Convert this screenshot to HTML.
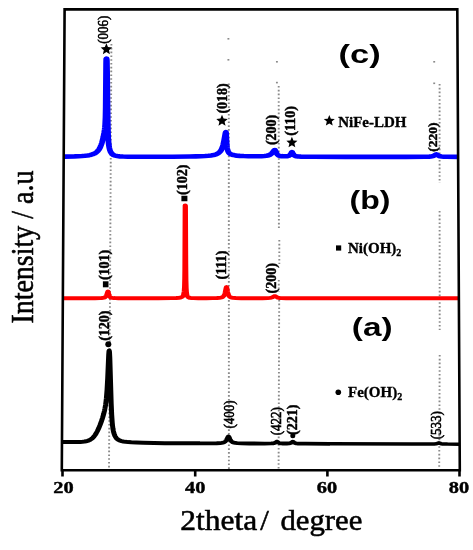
<!DOCTYPE html>
<html><head><meta charset="utf-8"><title>XRD patterns</title>
<style>html,body{margin:0;padding:0;background:#fff;}svg{display:block;}</style>
</head><body><svg width="473" height="550" viewBox="0 0 473 550"><g stroke="#8a8a8a" stroke-width="1.9" stroke-dasharray="1.6 2.2" fill="none"><line x1="111.4" y1="44" x2="109.0" y2="469"/><line x1="228.4" y1="38" x2="228.4" y2="40.5"/><line x1="228.4" y1="59" x2="228.4" y2="61.5"/><line x1="228.8" y1="83.5" x2="228.9" y2="469"/><line x1="276.9" y1="61" x2="276.9" y2="63.5"/><line x1="276.9" y1="81.8" x2="276.9" y2="83.6"/><line x1="278.7" y1="86" x2="278.9" y2="228"/><line x1="279.3" y1="240" x2="279.3" y2="264"/><line x1="278.8" y1="280" x2="278.8" y2="292"/><line x1="279.2" y1="296" x2="278.6" y2="469"/><line x1="434.2" y1="61" x2="434.2" y2="63.5"/><line x1="434.2" y1="82.5" x2="434.2" y2="84.5"/><line x1="439.6" y1="84" x2="439.6" y2="183"/><line x1="439.6" y1="211" x2="439.7" y2="330"/><line x1="439.7" y1="355" x2="439.2" y2="469"/></g><path transform="scale(1.25 1)" d="M51.20 156.64 L59.60 156.41 L62.80 156.25 L65.52 156.05 L67.84 155.80 L69.84 155.50 L71.52 155.14 L73.04 154.70 L74.32 154.20 L75.52 153.55 L76.56 152.81 L77.52 151.89 L78.40 150.79 L79.12 149.61 L79.76 148.31 L80.40 146.68 L81.04 144.64 L81.60 142.45 L82.16 139.83 L82.72 136.73 L83.28 133.13 L83.68 130.03 L83.92 127.63 L84.16 124.09 L84.40 117.22 L84.56 107.62 L84.88 64.39 L84.96 58.82 L85.04 58.72 L85.20 58.64 L85.28 58.70 L85.44 59.36 L85.52 60.69 L85.68 71.55 L86.00 106.22 L86.24 125.00 L86.48 135.29 L86.80 142.01 L87.04 144.83 L87.44 147.85 L87.92 150.18 L88.48 151.95 L88.80 152.68 L89.12 153.27 L89.52 153.85 L89.92 154.30 L90.40 154.73 L90.88 155.06 L91.52 155.40 L92.16 155.65 L93.76 156.07 L95.76 156.35 L98.48 156.55 L102.24 156.68 L107.84 156.76 L115.92 156.79 L138.16 156.73 L151.76 156.55 L156.72 156.42 L160.72 156.25 L164.00 156.04 L166.64 155.79 L168.88 155.46 L170.72 155.06 L171.92 154.69 L172.96 154.26 L173.92 153.73 L174.72 153.14 L175.44 152.44 L176.08 151.63 L176.64 150.72 L177.12 149.72 L177.52 148.68 L177.92 147.41 L178.56 144.71 L179.12 141.50 L180.24 133.71 L180.48 132.60 L180.64 132.19 L180.72 132.09 L180.80 132.12 L180.88 133.09 L181.20 141.00 L181.52 145.97 L181.68 147.50 L181.92 149.13 L182.24 150.59 L182.56 151.57 L182.96 152.43 L183.44 153.15 L184.08 153.80 L184.80 154.30 L185.68 154.72 L186.72 155.07 L188.00 155.36 L189.52 155.61 L191.92 155.86 L194.96 156.05 L198.64 156.19 L202.80 156.27 L206.40 156.27 L209.28 156.19 L211.44 156.05 L213.12 155.82 L214.16 155.58 L215.04 155.27 L215.84 154.86 L216.48 154.39 L217.04 153.84 L217.60 153.12 L219.20 150.53 L219.52 150.22 L219.84 150.10 L220.00 150.18 L220.24 150.57 L221.04 152.77 L221.52 153.85 L221.92 154.50 L222.40 155.04 L223.12 155.55 L224.00 155.90 L225.20 156.15 L226.72 156.28 L228.32 156.29 L229.60 156.19 L230.56 155.98 L231.28 155.66 L231.76 155.28 L232.16 154.78 L232.56 154.06 L233.28 152.44 L233.44 152.23 L233.60 152.15 L233.76 152.24 L233.92 152.50 L234.56 154.07 L234.96 154.85 L235.36 155.38 L235.92 155.83 L236.64 156.15 L237.60 156.37 L238.88 156.51 L240.80 156.61 L250.56 156.75 L276.48 156.83 L324.80 156.87 L339.68 156.79 L343.36 156.63 L344.64 156.49 L345.60 156.31 L346.24 156.11 L346.88 155.83 L347.52 155.43 L348.64 154.58 L348.96 154.43 L349.20 154.40 L349.44 154.45 L349.68 154.61 L350.72 155.59 L351.36 156.01 L352.16 156.34 L353.28 156.57 L354.88 156.72 L357.20 156.81 L366.80 156.89" fill="none" stroke="#0000ff" stroke-width="4.6" stroke-linejoin="round" stroke-linecap="butt"/><path transform="scale(1.25 1)" d="M50.80 298.28 L76.00 298.22 L80.08 298.10 L81.36 298.01 L82.32 297.87 L83.12 297.66 L83.76 297.37 L84.32 296.92 L84.72 296.40 L85.04 295.77 L85.28 295.13 L86.08 292.07 L86.24 291.64 L86.40 291.48 L86.48 291.55 L86.64 292.04 L87.12 294.52 L87.36 295.49 L87.60 296.19 L87.92 296.81 L88.40 297.34 L88.96 297.67 L89.76 297.91 L90.88 298.07 L92.40 298.16 L94.64 298.21 L103.76 298.26 L126.48 298.22 L137.44 298.10 L141.04 297.96 L143.36 297.73 L144.24 297.54 L144.88 297.34 L145.44 297.05 L145.84 296.74 L146.24 296.27 L146.56 295.67 L146.80 294.99 L147.04 293.92 L147.20 292.82 L147.36 291.14 L147.60 286.10 L147.76 277.96 L147.84 269.76 L148.08 205.33 L148.32 205.33 L148.40 206.12 L148.64 263.88 L148.80 280.46 L148.96 287.56 L149.20 292.27 L149.36 293.85 L149.60 295.25 L149.84 296.07 L150.16 296.72 L150.64 297.26 L151.20 297.59 L151.76 297.78 L152.56 297.94 L154.72 298.11 L158.64 298.20 L165.04 298.21 L170.24 298.16 L173.52 298.05 L175.68 297.84 L176.48 297.69 L177.12 297.50 L177.84 297.16 L178.48 296.66 L179.04 295.91 L179.44 295.06 L179.76 294.06 L180.08 292.69 L180.88 287.93 L181.04 287.31 L181.12 287.14 L181.20 287.09 L181.28 287.15 L181.36 287.35 L181.52 288.05 L182.08 291.76 L182.48 293.83 L182.88 295.18 L183.12 295.75 L183.44 296.30 L183.76 296.70 L184.16 297.06 L184.64 297.35 L185.12 297.55 L185.76 297.73 L186.48 297.87 L188.48 298.06 L192.88 298.20 L201.28 298.25 L210.00 298.21 L214.24 298.09 L216.00 297.91 L217.20 297.61 L218.08 297.19 L219.36 296.24 L219.60 296.13 L219.84 296.09 L220.08 296.14 L220.32 296.27 L221.20 297.01 L221.76 297.39 L222.32 297.64 L222.96 297.83 L223.84 297.99 L225.04 298.10 L228.80 298.22 L249.28 298.29 L366.80 298.30" fill="none" stroke="#ff0000" stroke-width="3.9" stroke-linejoin="round" stroke-linecap="butt"/><path transform="scale(1.25 1)" d="M50.00 441.92 L59.52 441.98 L64.32 441.89 L66.08 441.76 L67.60 441.56 L68.88 441.28 L70.00 440.92 L71.20 440.37 L72.24 439.71 L73.28 438.83 L74.24 437.78 L75.20 436.47 L76.08 435.00 L76.96 433.27 L77.84 431.27 L78.88 428.54 L80.00 425.17 L81.12 421.38 L82.08 417.75 L82.88 414.32 L83.52 411.11 L84.00 408.24 L84.48 404.69 L84.80 401.75 L85.12 398.13 L85.68 389.34 L86.16 378.24 L86.96 355.18 L87.20 351.24 L87.28 350.71 L87.36 350.61 L87.52 351.43 L87.60 352.34 L87.84 357.99 L88.96 404.09 L89.36 415.15 L89.76 422.35 L90.00 425.36 L90.32 428.39 L90.64 430.65 L91.04 432.77 L91.52 434.66 L92.08 436.26 L92.64 437.44 L93.36 438.54 L94.16 439.42 L95.04 440.10 L96.08 440.68 L97.28 441.14 L98.72 441.53 L100.48 441.85 L102.56 442.11 L105.04 442.33 L109.12 442.56 L114.56 442.76 L131.92 443.15 L136.16 443.22 L160.00 443.33" fill="none" stroke="#000000" stroke-width="4.0" stroke-linejoin="round" stroke-linecap="butt"/><path transform="scale(1.25 1)" d="M160.00 443.33 L168.56 443.32 L173.36 443.24 L176.32 443.04 L177.36 442.89 L178.24 442.69 L178.96 442.42 L179.60 442.06 L180.08 441.66 L180.56 441.10 L180.96 440.45 L181.28 439.79 L182.40 436.88 L182.64 436.54 L182.80 436.47 L182.88 436.49 L183.04 436.65 L183.28 437.11 L184.08 439.38 L184.56 440.49 L185.04 441.28 L185.52 441.82 L186.24 442.35 L187.12 442.72 L188.24 442.99 L189.76 443.19 L193.28 443.37 L199.44 443.49 L211.60 443.55 L216.96 443.47 L218.56 443.33 L219.12 443.21 L219.60 443.05 L220.00 442.85 L220.32 442.62 L221.20 441.75 L221.52 441.62 L221.84 441.75 L222.56 442.48 L223.04 442.85 L223.52 443.09 L224.08 443.26 L224.96 443.40 L226.16 443.49 L229.52 443.51 L231.20 443.38 L232.24 443.13 L232.88 442.79 L233.92 441.81 L234.24 441.68 L234.56 441.81 L235.44 442.69 L235.76 442.92 L236.16 443.13 L237.12 443.40 L238.48 443.56 L240.64 443.65 L244.32 443.71 L264.00 443.82" fill="none" stroke="#000000" stroke-width="3.8" stroke-linejoin="round" stroke-linecap="butt"/><path transform="scale(1.25 1)" d="M264.00 443.82 L329.52 444.06 L344.96 444.07 L347.44 444.00 L348.88 443.84 L349.68 443.60 L350.80 442.92 L351.12 442.84 L351.44 442.93 L352.24 443.45 L352.80 443.71 L353.52 443.89 L354.48 444.00 L358.00 444.12 L367.60 444.19" fill="none" stroke="#000000" stroke-width="3.5" stroke-linejoin="round" stroke-linecap="butt"/><polygon points="64.6,9.4 457.3,9.4 459.8,470.2 61.8,470.2" fill="none" stroke="#000" stroke-width="2.6" stroke-linejoin="miter"/><line x1="62.5" y1="470" x2="62.5" y2="476.5" stroke="#000" stroke-width="2.6"/><line x1="195.2" y1="470" x2="195.2" y2="476.5" stroke="#000" stroke-width="2.6"/><line x1="327.4" y1="470" x2="327.4" y2="476.5" stroke="#000" stroke-width="2.6"/><line x1="459.5" y1="470" x2="459.5" y2="476.5" stroke="#000" stroke-width="2.6"/><polygon points="106.40,43.30 107.99,47.12 112.11,47.45 108.97,50.13 109.93,54.15 106.40,52.00 102.87,54.15 103.83,50.13 100.69,47.45 104.81,47.12" fill="#000"/><polygon points="222.00,114.80 223.59,118.62 227.71,118.95 224.57,121.63 225.53,125.65 222.00,123.50 218.47,125.65 219.43,121.63 216.29,118.95 220.41,118.62" fill="#000"/><polygon points="291.90,136.80 293.43,140.49 297.42,140.81 294.38,143.41 295.31,147.29 291.90,145.21 288.49,147.29 289.42,143.41 286.38,140.81 290.37,140.49" fill="#000"/><rect x="102.90" y="281.30" width="5.6" height="6.0" fill="#000"/><rect x="181.40" y="195.75" width="6.0" height="5.5" fill="#000"/><circle cx="108.3" cy="344.3" r="3.0" fill="#000"/><circle cx="292.8" cy="435.7" r="2.5" fill="#000"/><polygon points="329.30,115.00 330.83,118.69 334.82,119.01 331.78,121.61 332.71,125.49 329.30,123.41 325.89,125.49 326.82,121.61 323.78,119.01 327.77,118.69" fill="#000"/><rect x="336.00" y="245.40" width="5.2" height="5.2" fill="#000"/><circle cx="338.3" cy="392.2" r="2.8" fill="#000"/><text transform="translate(33.2 323.6) scale(1 0.874) rotate(-90)" font-family="'Liberation Serif', 'Times New Roman', serif" font-size="32" font-weight="normal" text-anchor="start" stroke="#000" stroke-width="0.55">Intensity / a.u</text><text transform="translate(180.2 529.7) scale(1.05 1)" font-family="'Liberation Serif', 'Times New Roman', serif" font-size="30" font-weight="normal" text-anchor="start" stroke="#000" stroke-width="0.55">2theta</text><text transform="translate(260.3 529.7) scale(1.03 1)" font-family="'Liberation Serif', 'Times New Roman', serif" font-size="30" font-weight="normal" text-anchor="start" stroke="#000" stroke-width="0.55">/</text><text transform="translate(280.4 529.7) scale(1.025 1)" font-family="'Liberation Serif', 'Times New Roman', serif" font-size="30" font-weight="normal" text-anchor="start" stroke="#000" stroke-width="0.55">degree</text><text transform="translate(63.4 492.5) scale(1.2 1)" font-family="'Liberation Serif', 'Times New Roman', serif" font-size="17" font-weight="bold" text-anchor="middle" stroke="#000" stroke-width="0.4">20</text><text transform="translate(195.2 492.5) scale(1.2 1)" font-family="'Liberation Serif', 'Times New Roman', serif" font-size="17" font-weight="bold" text-anchor="middle" stroke="#000" stroke-width="0.4">40</text><text transform="translate(327.0 492.8) scale(1.2 1)" font-family="'Liberation Serif', 'Times New Roman', serif" font-size="17" font-weight="bold" text-anchor="middle" stroke="#000" stroke-width="0.4">60</text><text transform="translate(459.0 492.9) scale(1.2 1)" font-family="'Liberation Serif', 'Times New Roman', serif" font-size="17" font-weight="bold" text-anchor="middle" stroke="#000" stroke-width="0.4">80</text><text transform="translate(338.6 62.7) scale(1.3 1)" font-family="'Liberation Sans', Arial, sans-serif" font-size="26.5" font-weight="bold" text-anchor="start">(c)</text><text transform="translate(349.6 209.2) scale(1.21 1)" font-family="'Liberation Sans', Arial, sans-serif" font-size="26.5" font-weight="bold" text-anchor="start">(b)</text><text transform="translate(351.8 336.2) scale(1.26 1)" font-family="'Liberation Sans', Arial, sans-serif" font-size="26.5" font-weight="bold" text-anchor="start">(a)</text><text transform="translate(338.2 126.8)" font-family="'Liberation Serif', 'Times New Roman', serif" font-size="15" font-weight="bold" text-anchor="start" stroke="#000" stroke-width="0.35">NiFe-LDH</text><text transform="translate(348 253.4)" font-family="'Liberation Serif', 'Times New Roman', serif" font-size="15" font-weight="bold" text-anchor="start" stroke="#000" stroke-width="0.35">Ni(OH)<tspan font-size='10' dy='3'>2</tspan></text><text transform="translate(348 397)" font-family="'Liberation Serif', 'Times New Roman', serif" font-size="15" font-weight="bold" text-anchor="start" stroke="#000" stroke-width="0.35">Fe(OH)<tspan font-size='10' dy='3'>2</tspan></text><text transform="translate(108.4 43.8) scale(1.12 1.0) rotate(-90)" font-family="'Liberation Serif', 'Times New Roman', serif" font-size="13" font-weight="normal" text-anchor="start" stroke="#000" stroke-width="0.5">(006)</text><text transform="translate(226.7 113.6) rotate(-90)" font-family="'Liberation Serif', 'Times New Roman', serif" font-size="14" font-weight="bold" text-anchor="start" stroke="#000" stroke-width="0.45">(018)</text><text transform="translate(275.8 145.1) rotate(-90)" font-family="'Liberation Serif', 'Times New Roman', serif" font-size="14" font-weight="bold" text-anchor="start" stroke="#000" stroke-width="0.45">(200)</text><text transform="translate(294.5 135.7) rotate(-90)" font-family="'Liberation Serif', 'Times New Roman', serif" font-size="14" font-weight="bold" text-anchor="start" stroke="#000" stroke-width="0.45">(110)</text><text transform="translate(437.3 151.8) rotate(-90)" font-family="'Liberation Serif', 'Times New Roman', serif" font-size="13.5" font-weight="bold" text-anchor="start" stroke="#000" stroke-width="0.45">(220)</text><text transform="translate(108.6 280.1) rotate(-90)" font-family="'Liberation Serif', 'Times New Roman', serif" font-size="14" font-weight="bold" text-anchor="start" stroke="#000" stroke-width="0.45">(101)</text><text transform="translate(186.5 195.0) rotate(-90)" font-family="'Liberation Serif', 'Times New Roman', serif" font-size="14" font-weight="bold" text-anchor="start" stroke="#000" stroke-width="0.45">(102)</text><text transform="translate(226.0 279.4) rotate(-90)" font-family="'Liberation Serif', 'Times New Roman', serif" font-size="14" font-weight="bold" text-anchor="start" stroke="#000" stroke-width="0.45">(111)</text><text transform="translate(275.5 293.4) rotate(-90)" font-family="'Liberation Serif', 'Times New Roman', serif" font-size="14" font-weight="bold" text-anchor="start" stroke="#000" stroke-width="0.45">(200)</text><text transform="translate(109.0 340.8) rotate(-90)" font-family="'Liberation Serif', 'Times New Roman', serif" font-size="14" font-weight="bold" text-anchor="start" stroke="#000" stroke-width="0.45">(120)</text><text transform="translate(234.2 428.5) scale(1.2 1.0) rotate(-90)" font-family="'Liberation Serif', 'Times New Roman', serif" font-size="13" font-weight="normal" text-anchor="start" stroke="#000" stroke-width="0.5">(400)</text><text transform="translate(280.7 435.2) scale(1.2 1.0) rotate(-90)" font-family="'Liberation Serif', 'Times New Roman', serif" font-size="13" font-weight="normal" text-anchor="start" stroke="#000" stroke-width="0.5">(422)</text><text transform="translate(296.5 434.9) rotate(-90)" font-family="'Liberation Serif', 'Times New Roman', serif" font-size="14" font-weight="bold" text-anchor="start" stroke="#000" stroke-width="0.45">(221)</text><text transform="translate(441.0 439.3) scale(1.2 1.0) rotate(-90)" font-family="'Liberation Serif', 'Times New Roman', serif" font-size="13" font-weight="normal" text-anchor="start" stroke="#000" stroke-width="0.5">(533)</text></svg></body></html>
